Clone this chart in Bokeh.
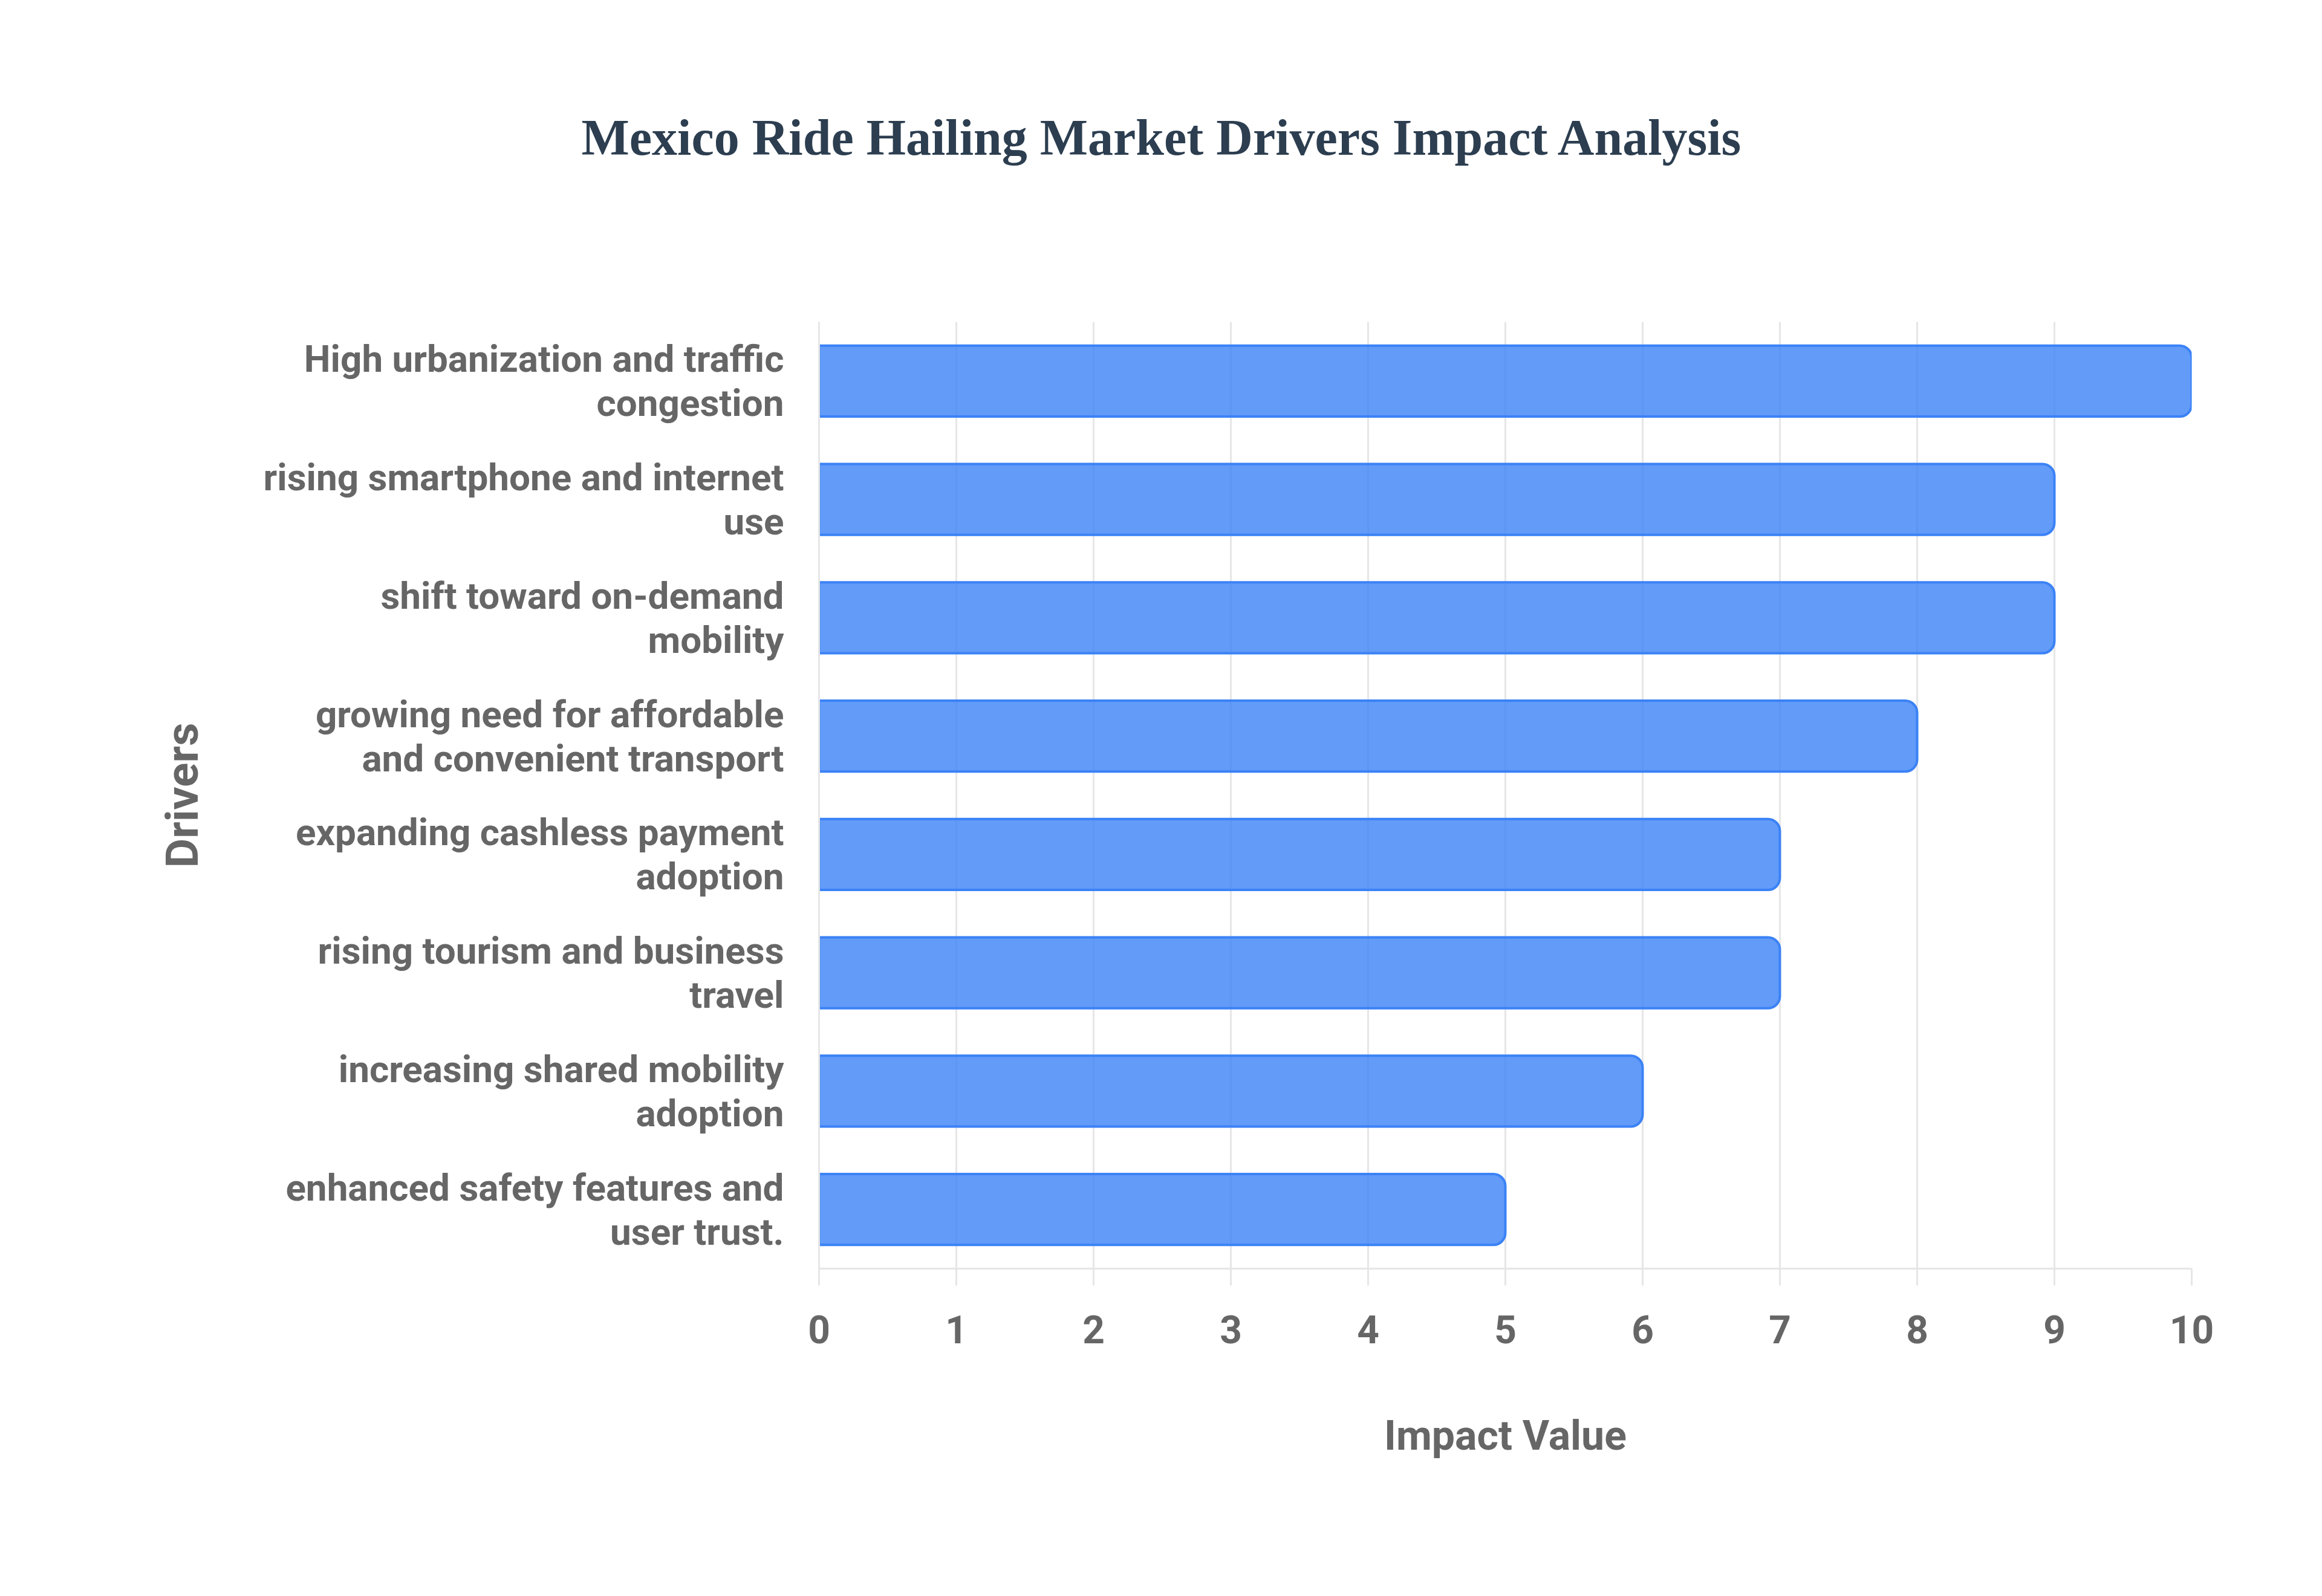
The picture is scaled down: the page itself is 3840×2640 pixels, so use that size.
from bokeh.plotting import figure
from bokeh.models import FactorRange, Range1d, SingleIntervalTicker, Title, ColumnDataSource
from bokeh.embed import file_html
from bokeh.resources import INLINE

# ---- data ----
title_text = "Mexico Ride Hailing Market Drivers Impact Analysis"
drivers = [
    "High urbanization and traffic\ncongestion",
    "rising smartphone and internet\nuse",
    "shift toward on-demand\nmobility",
    "growing need for affordable\nand convenient transport",
    "expanding cashless payment\nadoption",
    "rising tourism and business\ntravel",
    "increasing shared mobility\nadoption",
    "enhanced safety features and\nuser trust.",
]
impact = [10, 9, 9, 8, 7, 7, 6, 5]
x_label = "Impact Value"
y_label = "Drivers"

W, H = 3824, 2624
LEFT, RIGHT, TOP, BOTTOM = 1354, 200, 532, 526

src = ColumnDataSource(dict(driver=drivers, impact=impact))

p = figure(
    width=W, height=H,
    y_range=FactorRange(factors=list(reversed(drivers)), range_padding=0),
    x_range=Range1d(0, 10),
    output_backend="svg", toolbar_location=None,
    min_border_left=LEFT, min_border_right=RIGHT,
    min_border_top=TOP, min_border_bottom=BOTTOM,
    outline_line_color=None, background_fill_color="white",
    border_fill_color="white",
)

p.hbar(y="driver", right="impact", left=0, height=0.6, source=src,
       fill_color="#3b82f6", fill_alpha=0.8,
       line_color="#3b82f6", line_width=4,
       border_radius=(0, 20, 20, 0))

grid_col = "#e6e6e6"
p.xgrid.grid_line_color = grid_col
p.xgrid.grid_line_width = 3
p.ygrid.grid_line_color = None

p.xaxis.ticker = SingleIntervalTicker(interval=1)
p.xaxis.axis_line_color = grid_col
p.xaxis.axis_line_width = 3
p.xaxis.major_tick_line_color = grid_col
p.xaxis.major_tick_line_width = 3
p.xaxis.major_tick_out = 28
p.xaxis.major_tick_in = 0
p.xaxis.minor_tick_line_color = None
p.xaxis.major_label_text_font = "Roboto"
p.xaxis.major_label_text_font_style = "bold"
p.xaxis.major_label_text_font_size = "64px"
p.xaxis.major_label_text_color = "#666666"
p.xaxis.major_label_standoff = 49
p.xaxis.axis_label = x_label
p.xaxis.axis_label_text_font = "Roboto"
p.xaxis.axis_label_text_font_style = "bold"
p.xaxis.axis_label_text_font_size = "68px"
p.xaxis.axis_label_text_color = "#666666"
p.xaxis.axis_label_standoff = 110

p.yaxis.axis_line_color = grid_col
p.yaxis.axis_line_width = 3
p.yaxis.major_tick_line_color = None
p.yaxis.major_tick_out = 0
p.yaxis.major_tick_in = 0
p.yaxis.minor_tick_line_color = None
p.yaxis.major_label_text_font = "Roboto"
p.yaxis.major_label_text_font_style = "bold"
p.yaxis.major_label_text_font_size = "62px"
p.yaxis.major_label_text_color = "#666666"
p.yaxis.major_label_text_line_height = 1.0
p.yaxis.major_label_standoff = 58
p.yaxis.axis_label = y_label
p.yaxis.axis_label_text_font = "Roboto"
p.yaxis.axis_label_text_font_style = "bold"
p.yaxis.axis_label_text_font_size = "75px"
p.yaxis.axis_label_text_color = "#666666"
p.yaxis.axis_label_standoff = 88

# spacer (nearest the frame) then the real title above it
spacer = Title(text=" ", text_font_size="20px", standoff=230, text_color="white")
p.add_layout(spacer, "above")
title = Title(text=title_text, align="left", offset=-393, vertical_align="bottom",
              standoff=10, text_font="Liberation Serif", text_font_style="bold",
              text_font_size="84px", text_color="#2c3e50")
p.add_layout(title, "above")

open("out.html", "w").write(file_html(p, INLINE))
